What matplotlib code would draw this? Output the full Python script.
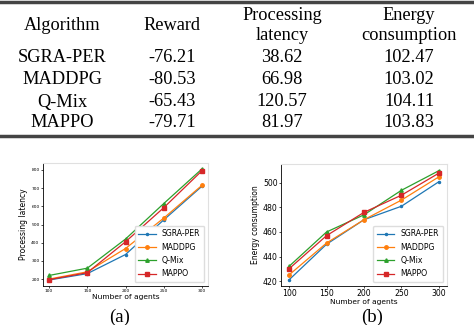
import matplotlib.pyplot as plt
from matplotlib.lines import Line2D

# Summary table
algorithms = ["SGRA-PER", "MADDPG", "Q-Mix", "MAPPO"]
reward = ["-76.21", "-80.53", "-65.43", "-79.71"]
latency = ["38.62", "66.98", "120.57", "81.97"]
energy = ["102.47", "103.02", "104.11", "103.83"]

# Scaling with number of agents
agents = [100, 150, 200, 250, 300]
lat_sgra = [195, 230, 335, 525, 710]
lat_maddpg = [200, 240, 368, 535, 715]
lat_qmix = [220, 260, 420, 615, 805]
lat_mappo = [197, 235, 405, 592, 795]

en_sgra = [421, 450, 470, 481, 501]
en_maddpg = [425, 451, 470, 486, 505]
en_qmix = [432, 460, 474, 494, 510]
en_mappo = [430, 457, 476, 490, 508]

W, H = 474, 325
fig = plt.figure(figsize=(W / 100, H / 100), dpi=100)

serif = "Liberation Serif"
col_x = [62, 172, 282, 409]
fs = 13.2

def fx(px):
    return px / W

def fy(py):
    return 1 - py / H

# table rules
fig.add_artist(Line2D([0, 1], [fy(2), fy(2)], color="#444444", lw=2.5))
fig.add_artist(Line2D([0, 1], [fy(136), fy(136)], color="#444444", lw=2.5))

fig.text(fx(col_x[0]), fy(26), "Algorithm", ha="center", va="center", family=serif, fontsize=fs)
fig.text(fx(col_x[1]), fy(26), "Reward", ha="center", va="center", family=serif, fontsize=fs)
fig.text(fx(col_x[2]), fy(15), "Processing", ha="center", va="center", family=serif, fontsize=fs)
fig.text(fx(col_x[2]), fy(36), "latency", ha="center", va="center", family=serif, fontsize=fs)
fig.text(fx(col_x[3]), fy(15), "Energy", ha="center", va="center", family=serif, fontsize=fs)
fig.text(fx(col_x[3]), fy(36), "consumption", ha="center", va="center", family=serif, fontsize=fs)

row_y = [58, 80, 102, 123]
for i, y in enumerate(row_y):
    for x, col in zip(col_x, [algorithms, reward, latency, energy]):
        fig.text(fx(x), fy(y), col[i], ha="center", va="center", family=serif, fontsize=fs)

colors = ["#1f77b4", "#ff7f0e", "#2ca02c", "#d62728"]
markers = [".", "o", "^", "s"]
msizes = [3, 2.5, 2.5, 3]


def draw(ax, series, ylabel, ylim, xlim, yticks, tick_fs):
    for s, name, c, m, ms in zip(series, algorithms, colors, markers, msizes):
        ax.plot(agents, s, color=c, marker=m, markersize=ms, lw=0.9, label=name)
    ax.set_xlim(*xlim)
    ax.set_ylim(*ylim)
    ax.set_xticks(agents)
    ax.set_yticks(yticks)
    ax.tick_params(labelsize=tick_fs, length=1.5, width=0.5, pad=1)
    ax.set_xlabel("Number of agents", fontsize=5.4, labelpad=0.5)
    ax.set_ylabel(ylabel, fontsize=5.5, labelpad=2)
    for side in ["top", "right"]:
        ax.spines[side].set_color("#e0e0e0")
    for side in ["left", "bottom"]:
        ax.spines[side].set_linewidth(0.6)
    ax.legend(loc="lower right", fontsize=5.6, frameon=True, framealpha=1,
              edgecolor="#dddddd", handlelength=2.2, labelspacing=0.55,
              borderpad=0.5, fancybox=True)


ax1 = fig.add_axes([fx(43), fy(286), fx(165), 123 / H])
draw(ax1, [lat_sgra, lat_maddpg, lat_qmix, lat_mappo], "Processing latency",
     (162, 838), (92, 308), range(200, 801, 100), 3.2)

ax2 = fig.add_axes([fx(281), fy(286), fx(166), 122 / H])
draw(ax2, [en_sgra, en_maddpg, en_qmix, en_mappo], "Energy consumption",
     (416, 515.4), (89.3, 310.7), range(420, 501, 20), 5.6)

fig.text(fx(120), fy(317), "(a)", ha="center", va="center", family=serif, fontsize=13.5)
fig.text(fx(372), fy(317), "(b)", ha="center", va="center", family=serif, fontsize=13.5)

fig.savefig("out.png", dpi=100)
